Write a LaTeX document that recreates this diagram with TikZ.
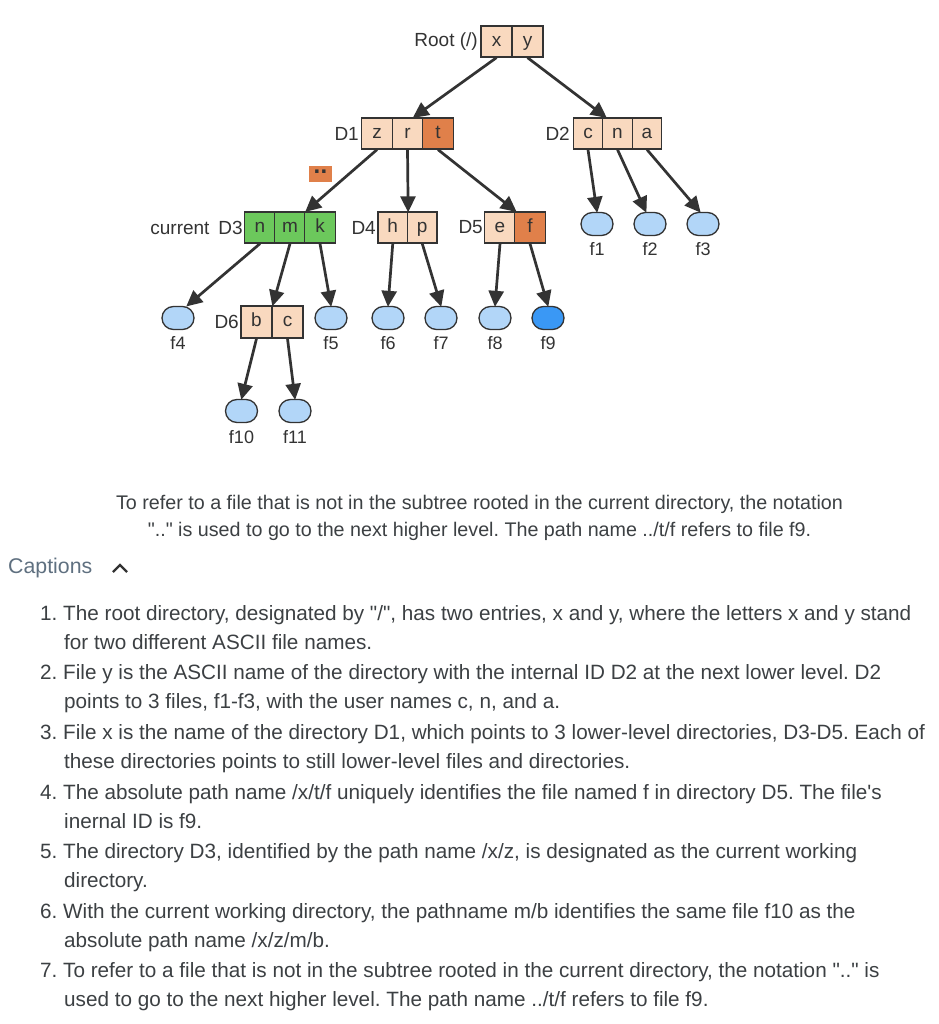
\documentclass[tikz,border=0pt]{standalone}
\usepackage{fontspec}
\setmainfont{Liberation Sans}[Ligatures=TeXOff]
\frenchspacing
\usetikzlibrary{arrows.meta,shapes.misc}
\definecolor{peach}{HTML}{F9D9BF}
\definecolor{dorange}{HTML}{E0804A}
\definecolor{dgreen}{HTML}{6CC85C}
\definecolor{lblue}{HTML}{B2D6F8}
\definecolor{dblue}{HTML}{3A98F5}
\definecolor{edge}{HTML}{333333}
\definecolor{txt}{HTML}{333333}
\definecolor{captxt}{HTML}{3C4043}
\definecolor{capgray}{HTML}{5F7080}
\tikzset{
  cell/.style={draw=edge, line width=1.3pt, minimum width=30.5pt, minimum height=31pt,
    inner sep=0pt, text height=13.5pt, text depth=4pt, font=\fontsize{19}{22}\selectfont, text=txt},
  pcell/.style={cell, fill=peach},
  ocell/.style={cell, fill=dorange},
  gcell/.style={cell, fill=dgreen},
  file/.style={draw=edge, line width=1.3pt, rounded rectangle, minimum width=32pt,
    minimum height=23pt, inner sep=0pt, fill=lblue},
  dlbl/.style={font=\fontsize{19}{22}\selectfont, text=txt, inner sep=0pt},
  flbl/.style={font=\fontsize{18}{21}\selectfont, text=txt, inner sep=0pt},
  arr/.style={draw=edge, line width=2.7pt, -{Triangle[length=16pt,width=15pt]}, shorten >=-1pt},
  capline/.style={anchor=base west, font=\fontsize{20.7}{25}\selectfont, text=captxt, inner sep=0pt},
  midline/.style={anchor=base, font=\fontsize{19.7}{23}\selectfont, text=captxt, inner sep=0pt}
}
\begin{document}
\begin{tikzpicture}[x=1pt,y=-1pt]
\useasboundingbox[fill=white] (0,0) rectangle (938,1024);

% Root
\node[pcell, minimum width=31pt] (rx) at (496.5,41.5) {x};
\node[pcell, minimum width=31pt] (ry) at (527.5,41.5) {y};
\node[dlbl, anchor=east] (rootl) at (478,41.5) {Root (/)};

% D1
\node[pcell] (d1z) at (377,133.5) {z};
\node[pcell] (d1r) at (407.5,133.5) {r};
\node[ocell] (d1t) at (438,133.5) {t};
\node[dlbl, anchor=east] (d1l) at (359,133.5) {D1};

% D2
\node[pcell, minimum width=29.5pt] (d2c) at (588,133.5) {c};
\node[pcell, minimum width=29.5pt] (d2n) at (617.5,133.5) {n};
\node[pcell, minimum width=29.5pt] (d2a) at (647,133.5) {a};
\node[dlbl, anchor=east] (d2l) at (570,133.5) {D2};

% dots
\node[fill=dorange, minimum width=23pt, minimum height=16pt, inner sep=0pt,
  font=\bfseries\fontsize{24}{26}\selectfont, text=txt] (dots) at (320.5,174) {\raisebox{5pt}{.\kern0.5pt.}};

% D3
\node[gcell] (d3n) at (260,227.5) {n};
\node[gcell] (d3m) at (290,227.5) {m};
\node[gcell] (d3k) at (320,227.5) {k};
\node[dlbl, anchor=east] (d3l) at (243,227.5) {current\hspace{9pt}D3};

% D4
\node[pcell, minimum width=29.5pt] (d4h) at (392.75,227.5) {h};
\node[pcell, minimum width=29.5pt] (d4p) at (422.25,227.5) {p};
\node[dlbl, anchor=east] (d4l) at (376,227.5) {D4};

% D5
\node[pcell] (d5e) at (500,227.5) {e};
\node[ocell] (d5f) at (530,227.5) {f};
\node[dlbl, anchor=east] (d5l) at (483,227.5) {D5};

% D6
\node[pcell, minimum width=31pt, minimum height=32pt] (d6b) at (256.5,322) {b};
\node[pcell, minimum width=31pt, minimum height=32pt] (d6c) at (287.5,322) {c};
\node[dlbl, anchor=east] (d6l) at (239,322) {D6};

% files
\node[file] (f1) at (597,224) {};
\node[file] (f2) at (650,224) {};
\node[file] (f3) at (703,224) {};
\node[file] (f4) at (178,318) {};
\node[file] (f5) at (331,318) {};
\node[file] (f6) at (388,318) {};
\node[file] (f7) at (441,318) {};
\node[file] (f8) at (495,318) {};
\node[file, fill=dblue] (f9) at (548,318) {};
\node[file] (f10) at (241.5,411) {};
\node[file] (f11) at (295,411) {};

\node[flbl] (f1t) at (597,249) {f1};
\node[flbl] (f2t) at (650,249) {f2};
\node[flbl] (f3t) at (703,249) {f3};
\node[flbl] (f4t) at (178,343) {f4};
\node[flbl] (f5t) at (331,343) {f5};
\node[flbl] (f6t) at (388,343) {f6};
\node[flbl] (f7t) at (441,343) {f7};
\node[flbl] (f8t) at (495,343) {f8};
\node[flbl] (f9t) at (548,343) {f9};
\node[flbl] (f10t) at (241.5,437) {f10};
\node[flbl] (f11t) at (295,437) {f11};

% arrows
\draw[arr] (rx.south) -- ([xshift=6pt]d1r.north);
\draw[arr] (ry.south) -- ([xshift=4pt]d2n.north west);
\draw[arr] (d1z.south) -- (d3m.north east);
\draw[arr] (d1r.south) -- (d4h.north east);
\draw[arr] (d1t.south) -- (d5e.north east);
\draw[arr] (d2c.south) -- (f1.north);
\draw[arr] (d2n.south) -- ([xshift=-4pt]f2.north);
\draw[arr] (d2a.south) -- ([xshift=-3pt]f3.north);
\draw[arr] (d3n.south) -- ([xshift=9pt]f4.north);
\draw[arr] (d3m.south) -- (d6b.north east);
\draw[arr] (d3k.south) -- (f5.north);
\draw[arr] (d4h.south) -- (f6.north);
\draw[arr] (d4p.south) -- (f7.north);
\draw[arr] (d5e.south) -- (f8.north);
\draw[arr] (d5f.south) -- (f9.north);
\draw[arr] (d6b.south) -- (f10.north);
\draw[arr] (d6c.south) -- (f11.north);

% middle text
\node[midline] (m1) at (479.5,509) {To refer to a file that is not in the subtree rooted in the current directory, the notation};
\node[midline] (m2) at (479.5,536) {".." is used to go to the next higher level. The path name ../t/f refers to file f9.};

% Captions header
\node[anchor=base west, font=\fontsize{21.3}{25}\selectfont, text=capgray, inner sep=0pt] (caph) at (8,573) {Captions};
\coordinate (chA) at (113,572);
\coordinate (chB) at (120,565);
\coordinate (chC) at (127,572);
\draw[draw=txt, line width=2.2pt] (chA) -- (chB) -- (chC);

% list
\node[capline] (c1a) at (40,620) {1. The root directory, designated by "/", has two entries, x and y, where the letters x and y stand};
\node[capline] (c1b) at (64,649) {for two different ASCII file names.};
\node[capline] (c2a) at (40,679) {2. File y is the ASCII name of the directory with the internal ID D2 at the next lower level. D2};
\node[capline] (c2b) at (64,708) {points to 3 files, f1-f3, with the user names c, n, and a.};
\node[capline] (c3a) at (40,739) {3. File x is the name of the directory D1, which points to 3 lower-level directories, D3-D5. Each of};
\node[capline] (c3b) at (64,768) {these directories points to still lower-level files and directories.};
\node[capline] (c4a) at (40,799) {4. The absolute path name /x/t/f uniquely identifies the file named f in directory D5. The file's};
\node[capline] (c4b) at (64,828) {inernal ID is f9.};
\node[capline] (c5a) at (40,858) {5. The directory D3, identified by the path name /x/z, is designated as the current working};
\node[capline] (c5b) at (64,887) {directory.};
\node[capline] (c6a) at (40,918) {6. With the current working directory, the pathname m/b identifies the same file f10 as the};
\node[capline] (c6b) at (64,947) {absolute path name /x/z/m/b.};
\node[capline] (c7a) at (40,977) {7. To refer to a file that is not in the subtree rooted in the current directory, the notation ".." is};
\node[capline] (c7b) at (64,1006) {used to go to the next higher level. The path name ../t/f refers to file f9.};
\end{tikzpicture}
\end{document}
